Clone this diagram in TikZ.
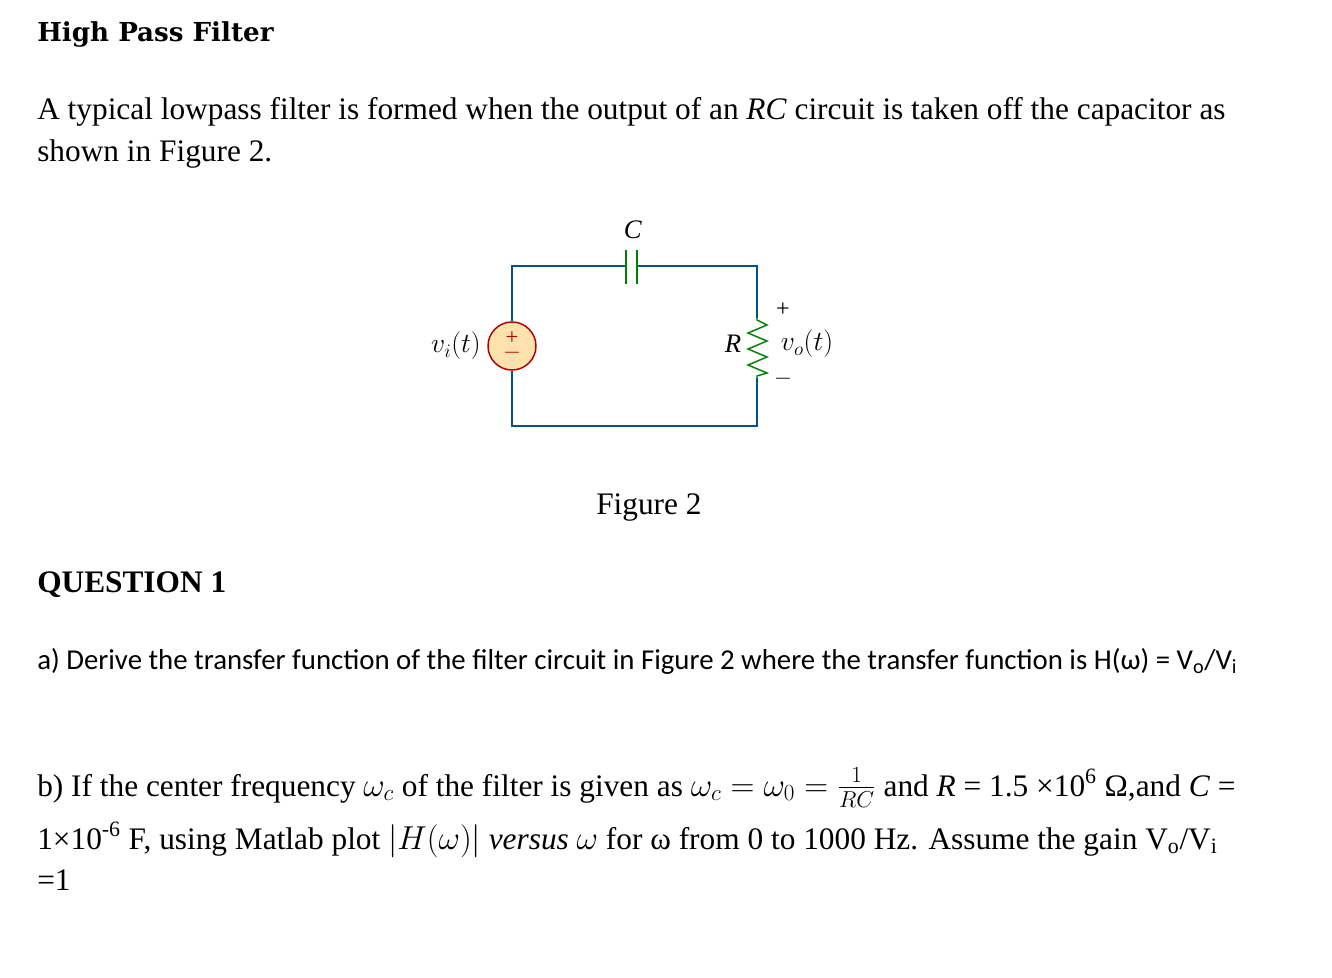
\documentclass[tikz,border=0pt]{standalone}
\usepackage{fontspec}
\setmainfont{Liberation Serif}
\newfontfamily\calib{Carlito}
\newfontfamily\cambr{DejaVu Serif}
\begin{document}
\begin{tikzpicture}[x=0.75pt,y=-0.75pt,
  wire/.style={draw=blue!45!black!60!cyan!80!black, line width=1.1pt},
  comp/.style={draw=green!50!black, line width=1.1pt},
  txt/.style={anchor=base west, inner sep=0pt, font=\fontsize{23.5}{26}\selectfont},
  cal/.style={anchor=base west, inner sep=0pt, font=\calib\fontsize{21.6}{24}\selectfont}]
\useasboundingbox (0,0) rectangle (1332,978);
\node[anchor=base west, inner sep=0pt, font=\cambr\bfseries\fontsize{19.6}{22}\selectfont] (title) at (37,41) {High Pass Filter};
\node[txt] (p1) at (37,119) {A typical lowpass filter is formed when the output of an \textit{RC} circuit is taken off the capacitor as};
\node[txt] (p2) at (37,161) {shown in Figure 2.};
% circuit
\coordinate (tl) at (512,266); \coordinate (tr) at (757,266);
\coordinate (bl) at (512,426); \coordinate (br) at (757,426);
\coordinate (c1) at (626,266); \coordinate (c2) at (637,266);
\coordinate (r1) at (757,318); \coordinate (r2) at (757,378);
\node[circle, draw=red!70!black, line width=1.1pt, fill=yellow!30!orange!30, minimum size=48pt*0.75, inner sep=0pt, text=red!70!black, font=\fontsize{17}{11}\selectfont, align=center] (src) at (512,346) {+\\[-1pt]$-$};
\draw[wire] (src.north) -- (tl) -- (c1);
\draw[wire] (c2) -- (tr) -- (r1);
\draw[wire] (r2) -- (br) -- (bl) -- (src.south);
\draw[comp] (626,250) -- (626,284) (637,250) -- (637,284);
\draw[comp] (r1) -- (757,320) -- (767,325) -- (748,333) -- (767,341) -- (748,349) -- (767,357) -- (748,365) -- (767,373) -- (757,376) -- (r2);
\node[font=\fontsize{20}{20}\selectfont] (C) at (633,230) {\textit{C}};
\node[font=\fontsize{20}{20}\selectfont] (R) at (733,344) {\textit{R}};
\node[font=\fontsize{20}{20}\selectfont] (vi) at (456,346) {$v_i(t)$};
\node[font=\fontsize{20}{20}\selectfont] (vo) at (807,344) {$v_o(t)$};
\node[font=\fontsize{18}{18}\selectfont] (pl) at (783,310) {+};
\node[font=\fontsize{18}{18}\selectfont] (mi) at (783,379) {$-$};
\node[txt] (fig) at (596,514) {Figure 2};
\node[txt, font=\bfseries\fontsize{23.5}{26}\selectfont] (q) at (37,592) {QUESTION 1};
\node[cal] (a) at (37,669) {a) Derive the transfer function of the filter circuit in Figure 2 where the transfer function is H(ω) = V\textsubscript{o}/V\textsubscript{i}};
\node[txt] (b1) at (37,796) {b) If the center frequency $\omega_c$ of the filter is given as $\omega_c=\omega_0=\frac{1}{RC}$ and \textit{R} = 1.5 ×10\textsuperscript{6} Ω,and \textit{C} =};
\node[txt] (b2) at (37,849) {1×10\textsuperscript{-6} F, using Matlab plot $|H(\omega)|$ $\mathit{versus}$ $\omega$ for ω from 0 to 1000 Hz. Assume the gain V\textsubscript{o}/V\textsubscript{i}};
\node[txt] (b3) at (37,890) {=1};
\end{tikzpicture}
\end{document}
